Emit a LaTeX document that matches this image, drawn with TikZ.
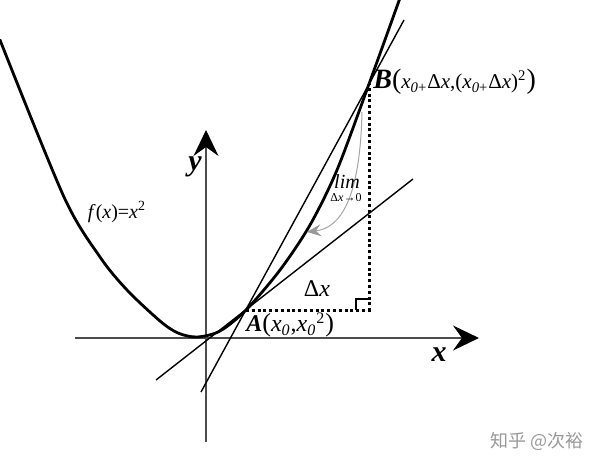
\documentclass[tikz,border=0pt]{standalone}
\usepackage{fontspec}
\setmainfont{Liberation Serif}
\newfontfamily\cjk{Noto Sans CJK SC}
\usetikzlibrary{arrows.meta}

\begin{document}
\begin{tikzpicture}
[x=0.5pt,y=-0.5pt,
  axisDecorate/.style={draw=black!70,line width=0.55pt,-{Stealth[length=13pt,width=12.5pt,inset=4.5pt,color=black]}},
  curveDecorate/.style={line width=1.4pt,line join=round,line cap=round},
  lineDecorate/.style={line width=0.7pt},
  dotDecorate/.style={line width=1.5pt,dash pattern=on 1.5pt off 1.4pt},
  cornerDecorate/.style={line width=1.2pt},
  limDecorate/.style={draw=black!35,line width=0.5pt,-{Stealth[length=7pt,width=6pt,inset=2.5pt,color=black!40]}},
  labelDecorate/.style={inner sep=0pt,font=\fontsize{12}{12}\selectfont}]
\useasboundingbox (0,0) rectangle (600,466);
%% points
\foreach \ptname/\x/\y in {xStart/75/338, xEnd/479/338, yStart/206/442, yEnd/206/130,
  A/246/310, B/369/84, C/369/310, secLow/201/392, secHigh/404/20,
  tanLow/156/380, tanHigh/413/179, limStart/362/112, limEnd/307/232} {
  \coordinate (\ptname) at (\x,\y);
}
%% axes
\draw[axisDecorate] (xStart) -- (xEnd);
\draw[axisDecorate] (yStart) -- (yEnd);
%% curve
\draw[curveDecorate] plot[smooth] coordinates {(0,40) (64,197) (100,257) (127,290)
  (160,321) (178,333) (197,337) (220,331) (A) (280,270) (310,225) (337,170) (B) (400,-2)};
%% secant and tangent
\draw[lineDecorate] (secLow) -- (secHigh);
\draw[lineDecorate] (tanLow) -- (tanHigh);
%% increments
\draw[dotDecorate] (A) -- (C) -- (B);
\draw[cornerDecorate] ([xshift=-6.5pt]C) -- ++(0,-11) -- ++(13,0);
\draw[limDecorate] (limStart) .. controls (360,200) and (340,228) .. (limEnd);
%% labels
\node[labelDecorate,anchor=west,font=\fontsize{10.5}{10.5}\selectfont] (Blabel) at (373,82)
  {{\fontsize{14}{14}\selectfont\textbf{\textit{B}}(}\textit{x}\textsubscript{\textit{0}+}Δ\textit{x},(\textit{x}\textsubscript{\textit{0}+}Δ\textit{x})\textsuperscript{2}{\fontsize{14}{14}\selectfont)}};
\node[labelDecorate,anchor=west] (Alabel) at (246,325)
  {\textbf{\textit{A}}{\fontsize{13}{13}\selectfont(}\textit{x}\textsubscript{\textit{0}},\textit{x}\textsubscript{\textit{0}}\textsuperscript{2}{\fontsize{13}{13}\selectfont)}};
\node[labelDecorate] (dxlabel) at (317,289) {Δ\textit{x}};
\node[labelDecorate,font=\fontsize{10}{10}\selectfont] (limlabel) at (347,182) {\textit{lim}};
\node[labelDecorate,font=\fontsize{6}{6}\selectfont] (limsub) at (346,198) {Δ\textit{x}→0};
\node[labelDecorate,font=\fontsize{10}{10}\selectfont] (flabel) at (117,212)
  {\textit{f}(\textit{x})=\textit{x}\textsuperscript{2}};
\node[labelDecorate,font=\fontsize{15}{15}\selectfont] (ylabel) at (195,167) {\textbf{\textit{y}}};
\node[labelDecorate,font=\fontsize{15}{15}\selectfont] (xlabel) at (439,355) {\textbf{\textit{x}}};
\node[labelDecorate,font=\cjk\fontsize{9}{9}\selectfont,text=black!40] (mark) at (537,441) {知乎 @次裕};
\end{tikzpicture}
\end{document}
